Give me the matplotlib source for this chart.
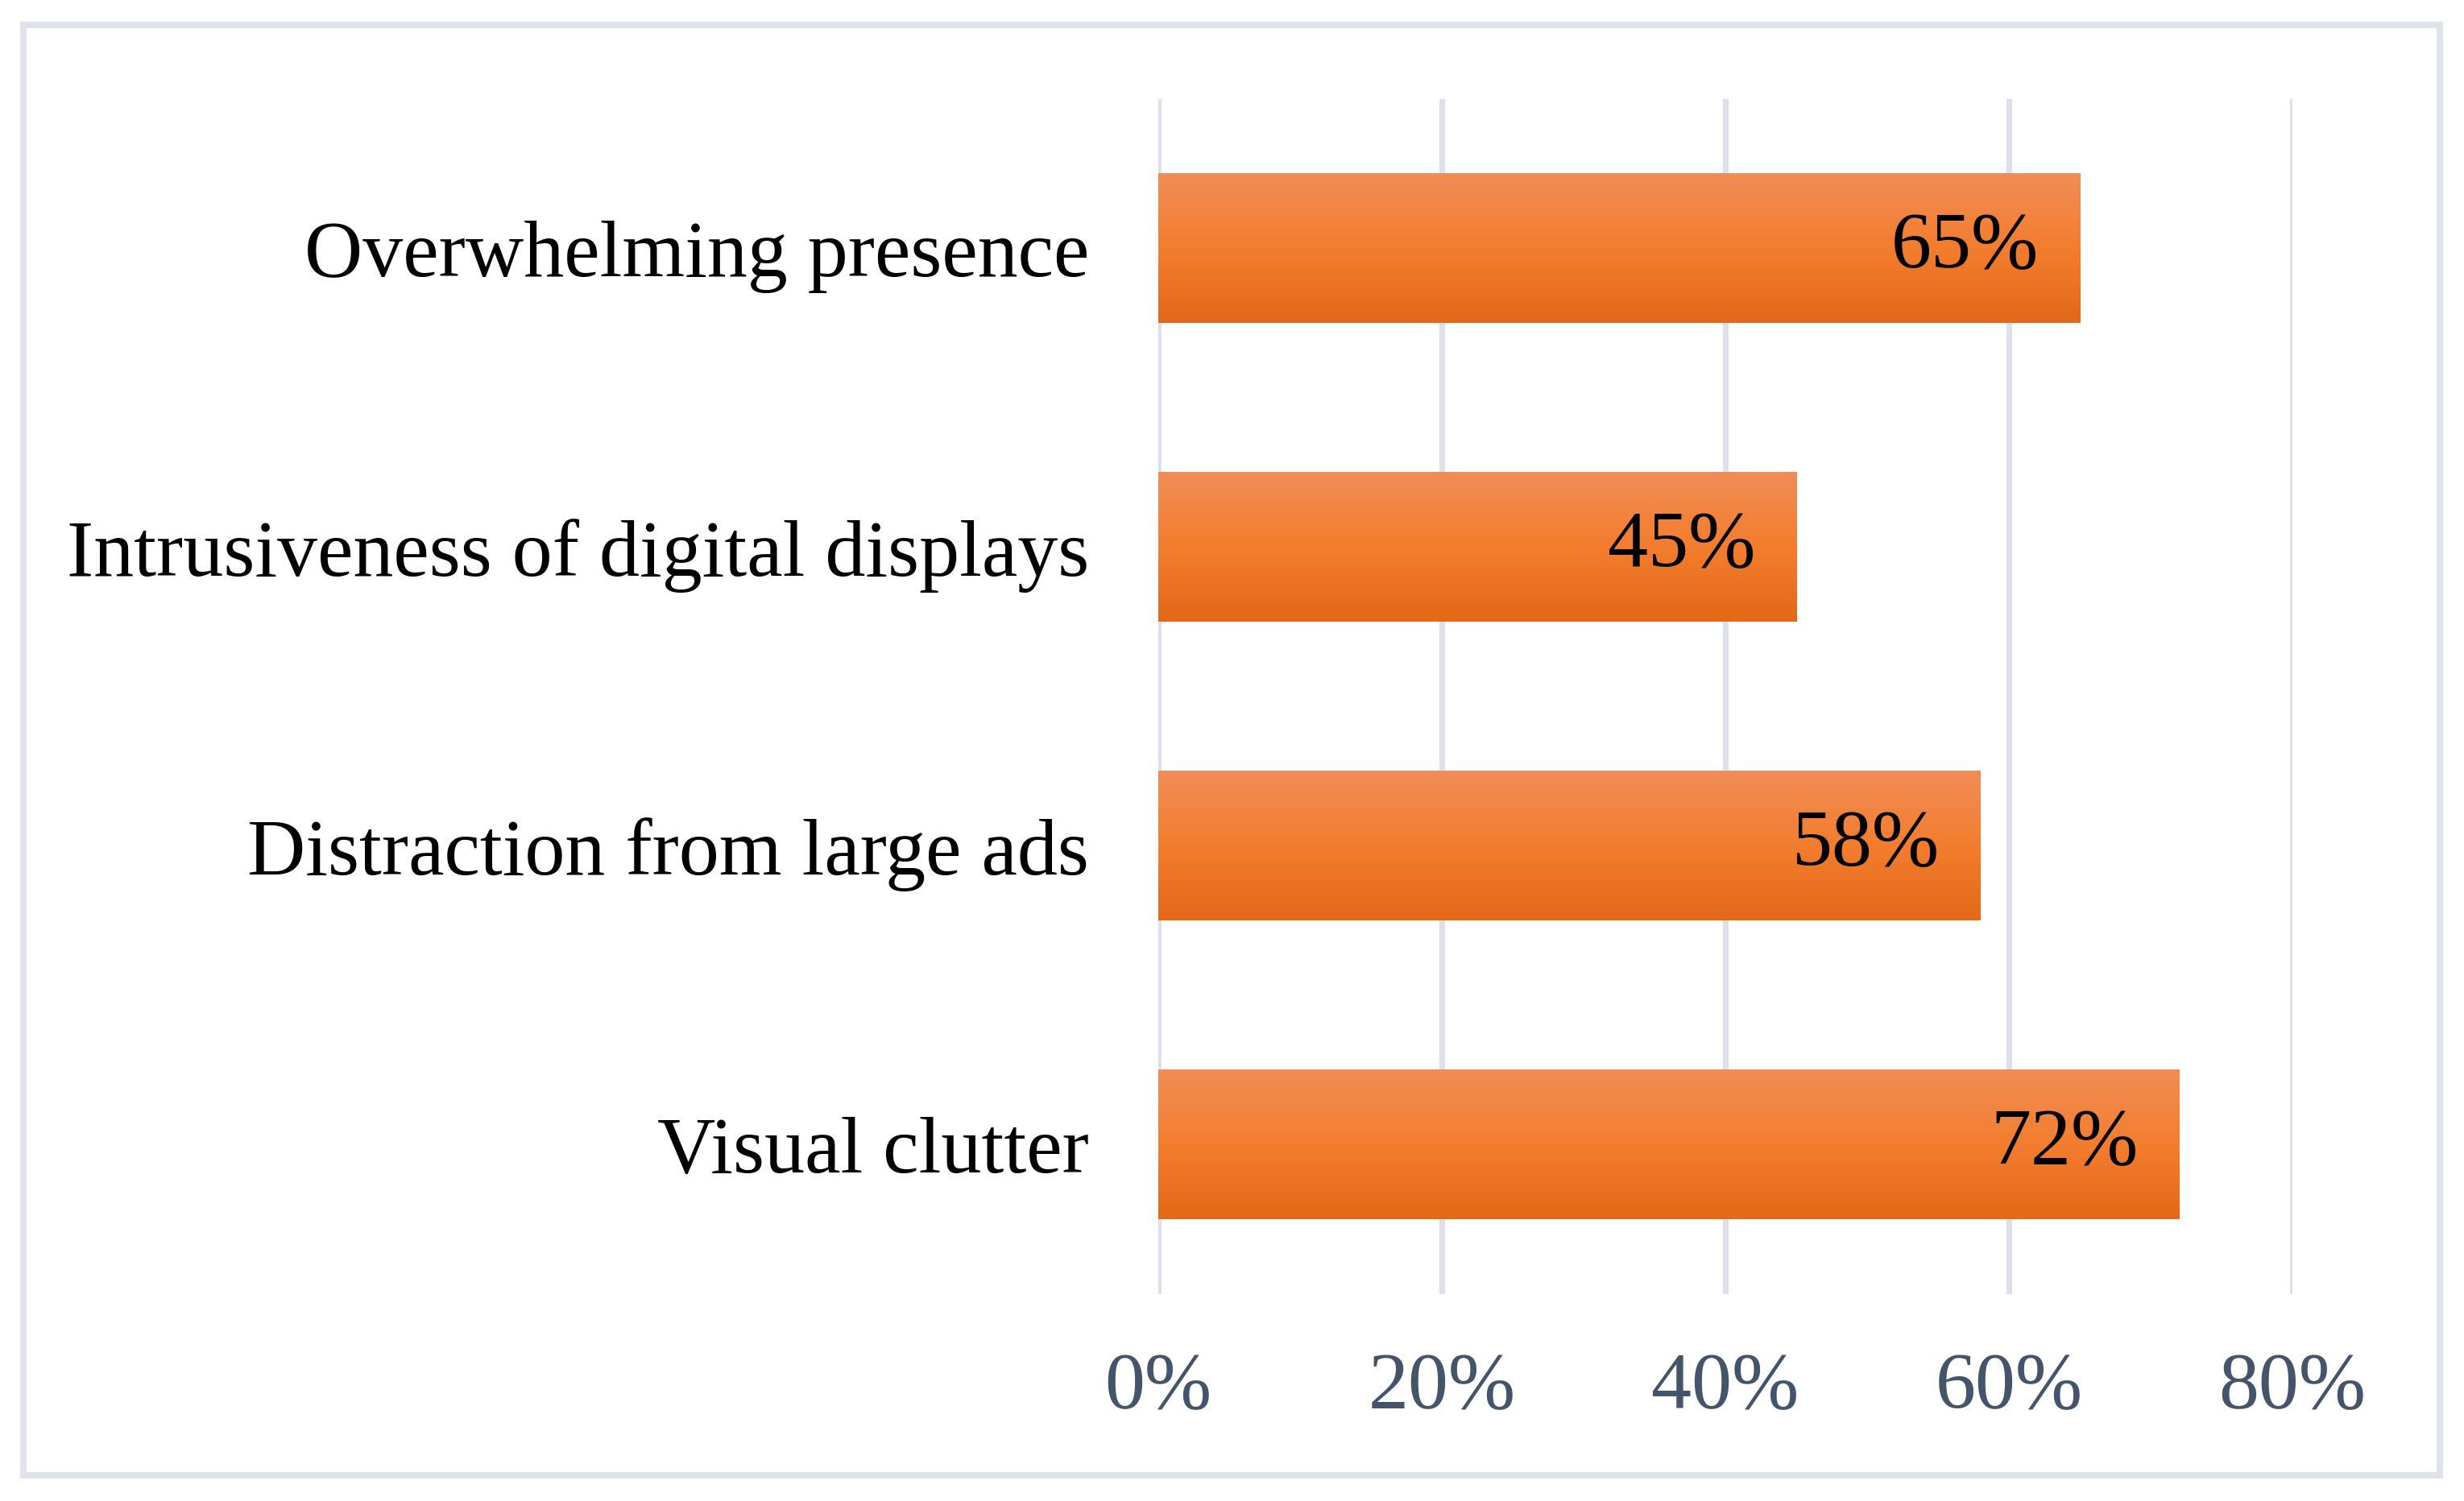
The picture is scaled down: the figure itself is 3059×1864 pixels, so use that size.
import matplotlib
matplotlib.use("Agg")
import matplotlib.pyplot as plt
import numpy as np
from matplotlib.colors import LinearSegmentedColormap
from matplotlib.patches import Rectangle

# data (bottom to top)
categories = ["Visual clutter", "Distraction from large ads",
              "Intrusiveness of digital displays", "Overwhelming presence"]
values = [0.72, 0.58, 0.45, 0.65]
ticks = [0, 0.2, 0.4, 0.6, 0.8]
tick_labels = ["0%", "20%", "40%", "60%", "80%"]

plt.rcParams['font.family'] = ['Liberation Serif', 'DejaVu Serif']

fig = plt.figure(figsize=(30.59, 18.64), dpi=100)
ax = fig.add_axes([0.4701, 0.1379, 0.4603, 0.7961])

y = np.arange(len(categories))
bars = ax.barh(y, values, height=0.5, color='#F07A2A', zorder=2)

# vertical gradient on each bar
grad = LinearSegmentedColormap.from_list("bar", ["#E36818", "#F37D2E", "#F18D57"])
for b in bars:
    x0, y0 = b.get_x(), b.get_y()
    ax.imshow(np.linspace(0, 1, 256).reshape(-1, 1), cmap=grad, origin='lower',
              aspect='auto', extent=(x0, x0 + b.get_width(), y0, y0 + b.get_height()),
              zorder=3)

for yi, v in zip(y, values):
    ax.text(v - 0.029, yi, f"{round(v * 100)}%", ha='right', va='center',
            fontsize=72, color='black', zorder=4)

ax.set_xlim(0, 0.8)
ax.set_ylim(-0.5, 3.5)
ax.set_xticks(ticks)
ax.set_xticklabels(tick_labels, fontsize=72, color='#44546A')
ax.set_yticks(y)
ax.set_yticklabels(categories, fontsize=72, color='black')
ax.tick_params(axis='both', length=0)
ax.tick_params(axis='x', pad=52)
ax.tick_params(axis='y', pad=62)
ax.grid(axis='x', color='#DCE1E9', linewidth=5, zorder=0)
ax.set_axisbelow(True)
for s in ax.spines.values():
    s.set_visible(False)

# outer frame
fig.patches.append(Rectangle((29 / 3059, 1 - 1832 / 1864), 3000 / 3059, 1801 / 1864,
                             transform=fig.transFigure, fill=False,
                             edgecolor='#DEE2EA', linewidth=5.8))

fig.savefig("out.png", dpi=100, facecolor='white')
